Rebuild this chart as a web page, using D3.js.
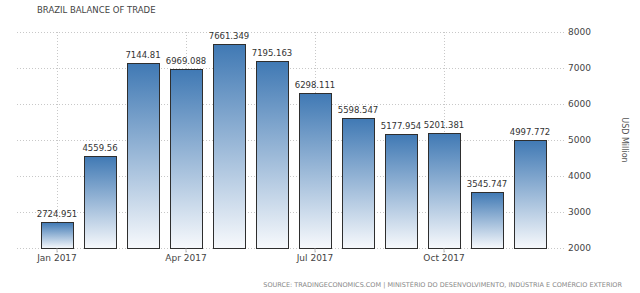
<!DOCTYPE html>
<html>
<head>
<meta charset="utf-8">
<script src="https://cdn.jsdelivr.net/npm/d3@7"></script>
<style>
  body { margin: 0; background: #fff; }
  svg { display: block; font-family: "DejaVu Sans", Verdana, sans-serif; }
</style>
</head>
<body>
<div id="container"></div>
<script>
// data
var months = ["Jan", "Feb", "Mar", "Apr", "May", "Jun", "Jul", "Aug", "Sep", "Oct", "Nov", "Dec"]
var values = [2724.951, 4559.56, 7144.81, 6969.088, 7661.349, 7195.163, 6298.111, 5598.547, 5177.954, 5201.381, 3545.747, 4997.772]
var valueLabels = ["2724.951", "4559.56", "7144.81", "6969.088", "7661.349", "7195.163", "6298.111", "5598.547", "5177.954", "5201.381", "3545.747", "4997.772"]
var yTicks = [2000, 3000, 4000, 5000, 6000, 7000, 8000]
var xTickMonths = ["Jan", "Apr", "Jul", "Oct"]
var xTickLabels = ["Jan 2017", "Apr 2017", "Jul 2017", "Oct 2017"]

var width = 640
var height = 293

var svg = d3.select("#container")
  .append("svg")
  .attr("width", width)
  .attr("height", height)

// bar gradient
var grad = svg.append("defs").append("linearGradient")
  .attr("id", "barGrad")
  .attr("x1", 0).attr("y1", 0).attr("x2", 0).attr("y2", 1)
grad.append("stop").attr("offset", "0%").attr("stop-color", "#4079b4")
grad.append("stop").attr("offset", "100%").attr("stop-color", "#f7f9fc")

// scales
var x = d3.scaleBand()
  .domain(months)
  .range([35.5, 551.5])
  .paddingInner(0.25)
  .paddingOuter(0.125)

var y = d3.scaleLinear()
  .domain([2000, 8000])
  .range([248, 32])

// horizontal grid
svg.append("g")
  .selectAll("line")
  .data(yTicks)
  .enter()
  .append("line")
  .attr("x1", 17)
  .attr("x2", 566)
  .attr("y1", function(d) { return Math.round(y(d)) + 0.5 })
  .attr("y2", function(d) { return Math.round(y(d)) + 0.5 })
  .attr("stroke", "#c8c8c8")
  .attr("stroke-dasharray", "1,2")

// vertical grid at quarter ticks
svg.append("g")
  .selectAll("line")
  .data(xTickMonths)
  .enter()
  .append("line")
  .attr("x1", function(d) { return Math.round(x(d) + x.bandwidth() / 2) + 0.5 })
  .attr("x2", function(d) { return Math.round(x(d) + x.bandwidth() / 2) + 0.5 })
  .attr("y1", y(8000))
  .attr("y2", y(2000) + 4)
  .attr("stroke", "#c8c8c8")
  .attr("stroke-dasharray", "1,2")

// bars
svg.append("g")
  .selectAll("rect")
  .data(values)
  .enter()
  .append("rect")
  .attr("x", function(d, i) { return Math.round(x(months[i])) + 0.5 })
  .attr("y", function(d) { return Math.round(y(d)) + 0.5 })
  .attr("width", Math.round(x.bandwidth()))
  .attr("height", function(d) { return Math.round(y(2000)) - Math.round(y(d)) })
  .attr("fill", "url(#barGrad)")
  .attr("stroke", "#2e2e2e")
  .attr("stroke-width", 1)

// value labels
svg.append("g")
  .selectAll("text")
  .data(values)
  .enter()
  .append("text")
  .attr("x", function(d, i) { return x(months[i]) + x.bandwidth() / 2 })
  .attr("y", function(d) { return y(d) - 5 })
  .attr("text-anchor", "middle")
  .attr("font-size", "8.5px")
  .attr("fill", "#333")
  .text(function(d, i) { return valueLabels[i] })

// x axis ticks + labels
var xAxis = d3.axisBottom(x)
  .tickValues(xTickMonths)
  .tickFormat(function(d, i) { return xTickLabels[i] })
  .tickSize(4)
  .tickPadding(2)

var gx = svg.append("g")
  .attr("transform", "translate(0," + (y(2000) + 0.5) + ")")
  .call(xAxis)
gx.select(".domain").remove()
gx.selectAll(".tick line").attr("stroke", "#bbb")
gx.selectAll(".tick text")
  .attr("font-size", "9px")
  .attr("font-family", "DejaVu Sans, Verdana, sans-serif")
  .attr("fill", "#444")

// y axis on the right
var yAxis = d3.axisRight(y)
  .tickValues(yTicks)
  .tickFormat(d3.format("d"))
  .tickSize(0)
  .tickPadding(0)
var gy = svg.append("g")
  .attr("transform", "translate(568,0)")
  .call(yAxis)
gy.select(".domain").remove()
gy.selectAll(".tick text")
  .attr("font-size", "9px")
  .attr("font-family", "DejaVu Sans, Verdana, sans-serif")
  .attr("fill", "#444")

// unit label
svg.append("text")
  .attr("transform", "translate(622,140) rotate(90)")
  .attr("text-anchor", "middle")
  .attr("font-size", "8px")
  .attr("fill", "#555")
  .text("USD Million")

// title
svg.append("text")
  .attr("x", 37)
  .attr("y", 13)
  .attr("font-size", "8.5px")
  .attr("fill", "#444")
  .text("BRAZIL BALANCE OF TRADE")

// source
svg.append("text")
  .attr("x", 622)
  .attr("y", 287)
  .attr("text-anchor", "end")
  .attr("font-size", "6.5px")
  .attr("fill", "#888")
  .text("SOURCE: TRADINGECONOMICS.COM | MINISTÉRIO DO DESENVOLVIMENTO, INDÚSTRIA E COMÉRCIO EXTERIOR")
</script>
</body>
</html>
